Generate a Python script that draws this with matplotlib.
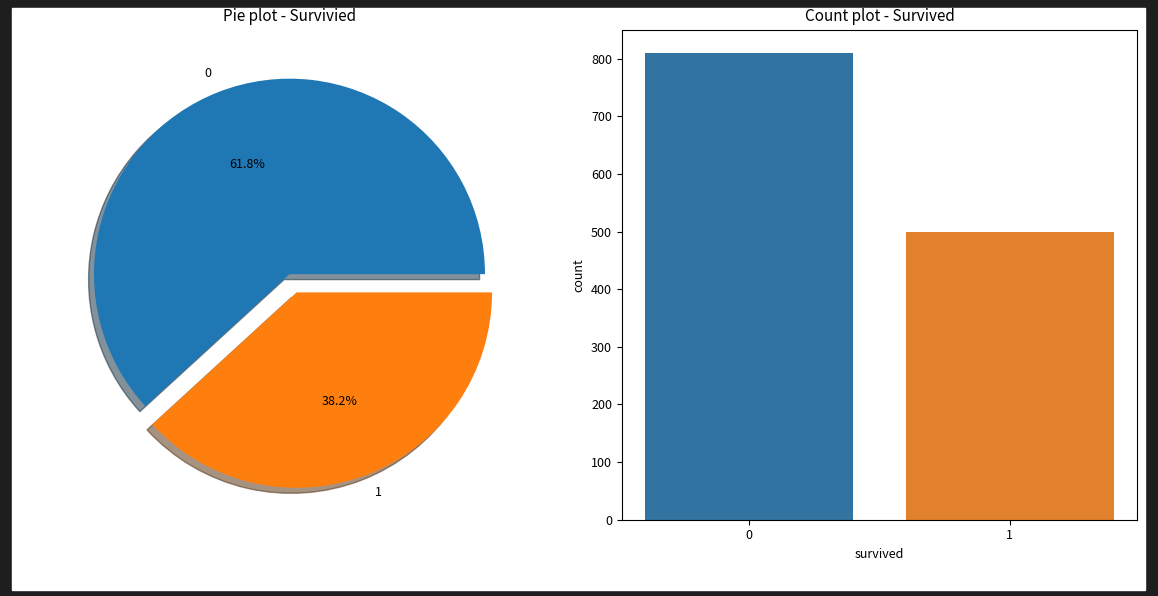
import matplotlib
matplotlib.use("Agg")
from matplotlib import pyplot as plt
from matplotlib.patches import Rectangle

plt.rcParams['font.family'] = ['Noto Sans CJK KR', 'DejaVu Sans']

labels = ['0', '1']
counts = [809, 500]
pie_colors = ['#1f77b4', '#ff7f0e']
bar_colors = ['#3274a1', '#e1812c']

fig = plt.figure(figsize=(11.58, 5.96), dpi=100, facecolor='#1e1e1e')
# white notebook output area, drawn behind the axes
fig.add_artist(Rectangle((12 / 1158, 6 / 596), 1133 / 1158, 582 / 596,
                         transform=fig.transFigure, color='white', zorder=-10))

ax1 = fig.add_axes([0.035, 0.13, 0.43, 0.82])
ax1.pie(counts, labels=labels, explode=[0, 0.1], autopct='%1.1f%%',
        shadow=True, colors=pie_colors, textprops={'fontsize': 9})
ax1.set_title('Pie plot - Survivied', fontsize=11)
ax1.set_aspect('equal')

ax2 = fig.add_axes([0.537, 0.128, 0.445, 0.822])
ax2.bar(labels, counts, color=bar_colors, width=0.8)
ax2.set_title('Count plot - Survived', fontsize=11)
ax2.set_xlabel('survived', fontsize=9)
ax2.set_ylabel('count', fontsize=9)
ax2.tick_params(labelsize=9)
ax2.set_ylim(0, 850)

fig.savefig('out.png', facecolor=fig.get_facecolor())
